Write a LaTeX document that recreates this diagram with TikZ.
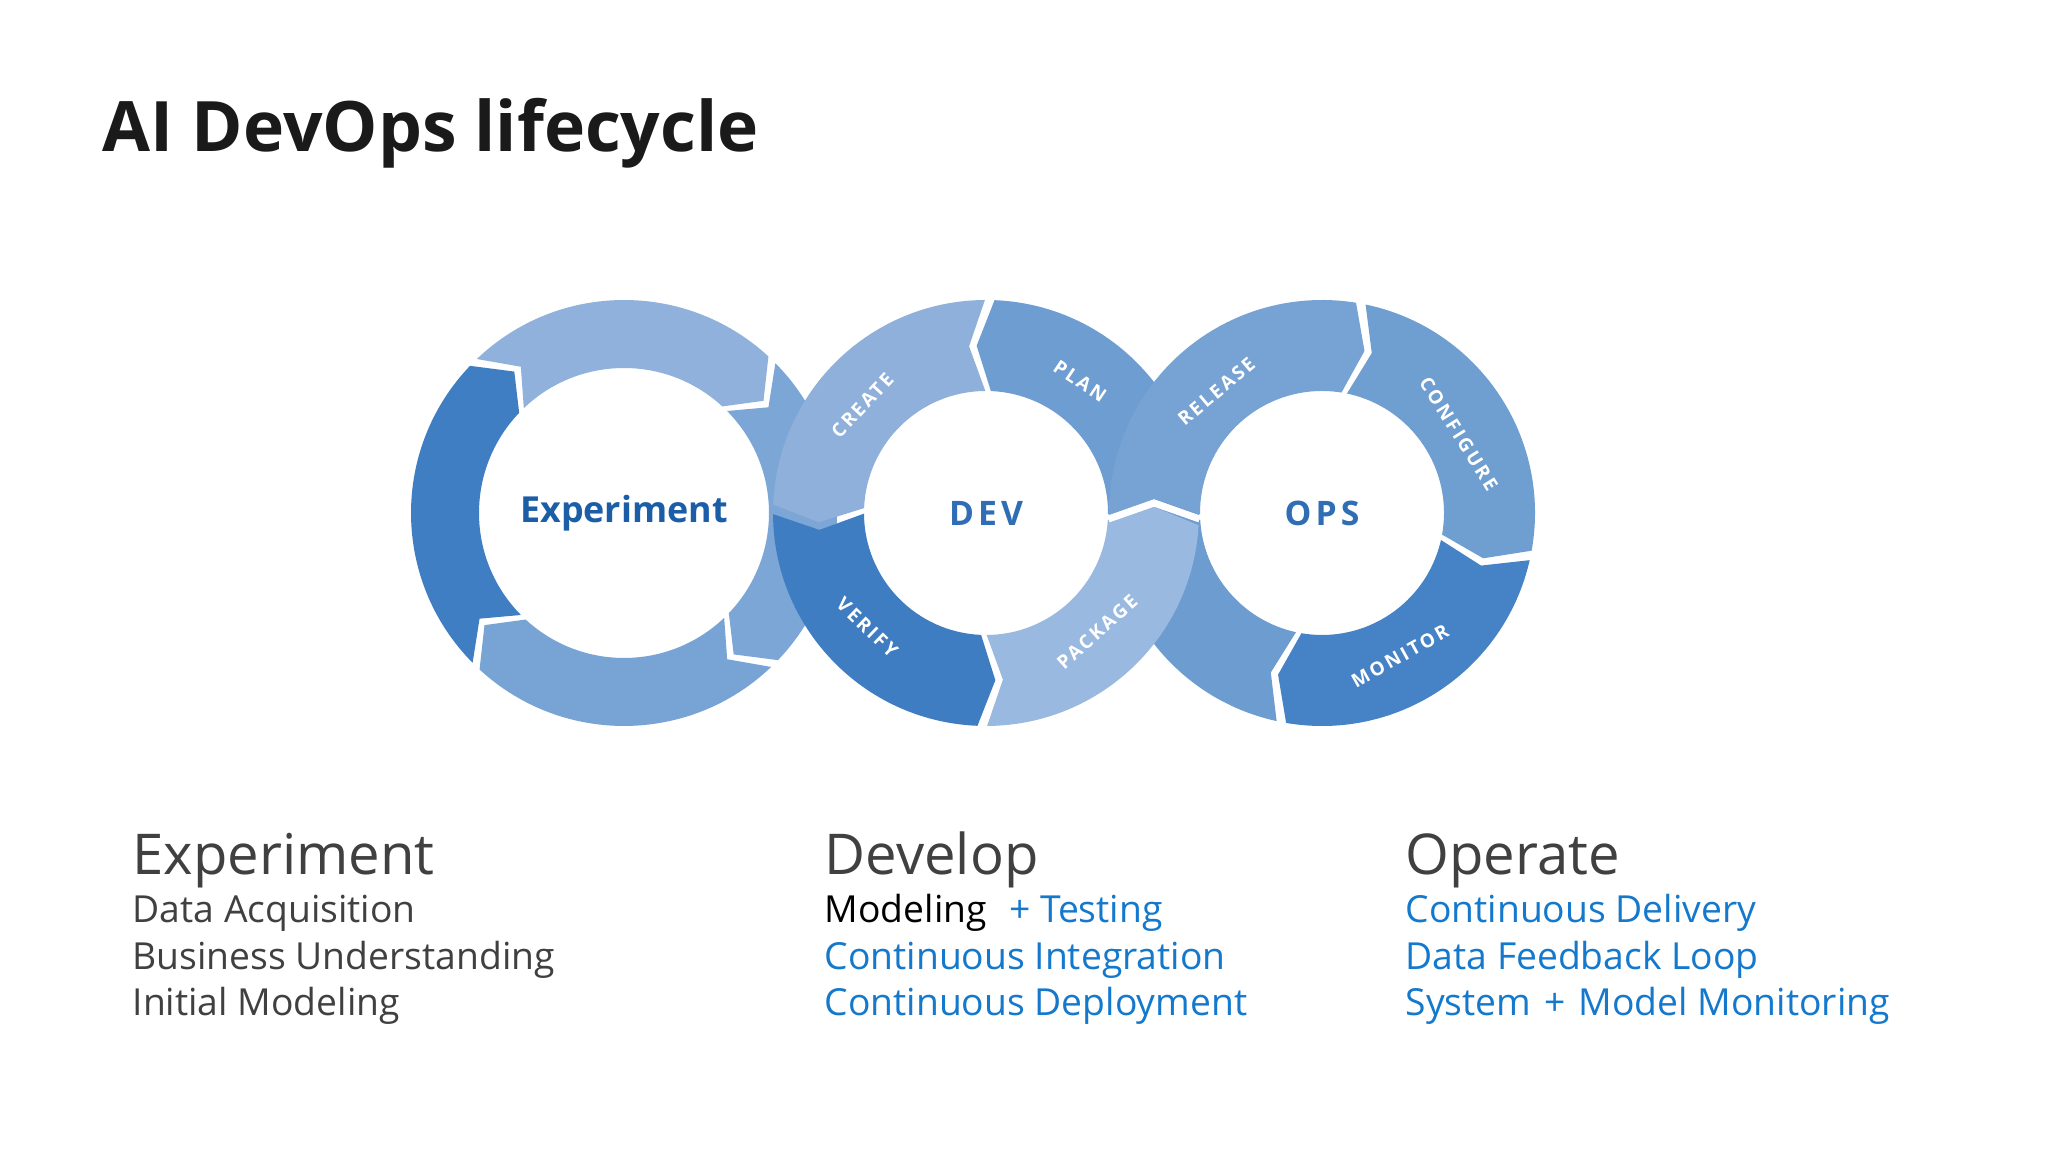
\documentclass[tikz,border=0pt]{standalone}
\usepackage{fontspec}
\setmainfont{Open Sans}
\usetikzlibrary{calc}

\definecolor{expTop}{HTML}{8FB1DB}
\definecolor{expRight}{HTML}{7BA6D6}
\definecolor{expBottom}{HTML}{77A4D4}
\definecolor{expLeft}{HTML}{407EC3}
\definecolor{devCreate}{HTML}{8EB0DA}
\definecolor{devPlan}{HTML}{6E9DD1}
\definecolor{devVerify}{HTML}{3F7DC2}
\definecolor{devPackage}{HTML}{99B9E0}
\definecolor{opsRelease}{HTML}{76A3D3}
\definecolor{opsConfig}{HTML}{6F9ED1}
\definecolor{opsMonitor}{HTML}{4683C6}
\definecolor{opsLow}{HTML}{6D9CD0}
\definecolor{expInk}{HTML}{1B5DA7}
\definecolor{ringInk}{HTML}{2F6DB5}
\definecolor{titleInk}{HTML}{1A1A1A}
\definecolor{headInk}{HTML}{404040}
\definecolor{itemBlue}{HTML}{1479CC}

% one arrow piece of a ring: centre, colour, r in, r out, tail cut, head cut, tip offset, half gap
\newcommand{\ringseg}[8]{%
  \fill[#2, shift={(#1)}] ({#5+(#8)}:#4) arc[start angle={#5+(#8)}, end angle={#6-(#8)}, radius=#4]
    -- ({#6-(#8)+(#7)}:{(#3+#4)/2}) -- ({#6-(#8)}:#3)
    arc[start angle={#6-(#8)}, end angle={#5+(#8)}, radius=#3]
    -- ({#5+(#8)+(#7)}:{(#3+#4)/2}) -- cycle;}

\begin{document}
\begin{tikzpicture}[
    seglbl/.style={text=white, inner sep=0pt, font=\fontsize{5.4}{6}\selectfont\bfseries\addfontfeature{LetterSpace=13}},
    ringlbl/.style={text=ringInk, inner sep=0pt, font=\fontsize{9.6}{12}\selectfont\bfseries\addfontfeature{LetterSpace=12}},
    explbl/.style={text=expInk, inner sep=0pt, font=\fontsize{10.2}{13}\selectfont\bfseries},
    headtxt/.style={anchor=base west, inner sep=0pt, text=headInk, font=\fontsize{16}{20}\selectfont},
    graytxt/.style={anchor=base west, inner sep=0pt, text=headInk, font=\fontsize{10.6}{13}\selectfont},
    bluetxt/.style={anchor=base west, inner sep=0pt, text=itemBlue, font=\fontsize{10.6}{13}\selectfont},
    gapline/.style={white, line width=0.07cm}
  ]
  \useasboundingbox[fill=white] (0,0) rectangle (20.48,11.52);

  \node[anchor=base west, inner sep=0pt, text=titleInk, font=\fontsize{19.8}{24}\selectfont\bfseries] (title) at (1.02,10.0) {AI DevOps lifecycle};

  \coordinate (expc) at (6.24,6.39);
  \coordinate (devc) at (9.86,6.39);
  \coordinate (opsc) at (13.22,6.39);

  % experiment ring, clockwise
  \ringseg{expc}{expTop}{1.45}{2.13}{135}{46}{-8.5}{-1.3}
  \ringseg{expc}{expRight}{1.45}{2.13}{46}{-45}{-8.5}{-1.3}
  \ringseg{expc}{expBottom}{1.45}{2.13}{-45}{-134}{-8.5}{-1.3}
  \ringseg{expc}{expLeft}{1.45}{2.13}{226}{135}{-8.5}{-1.3}

  % ops piece that goes under dev
  \ringseg{opsc}{opsLow}{1.22}{2.13}{-101}{-178}{-5.5}{-1.3}

  % dev ring, counter clockwise
  \ringseg{devc}{devPackage}{1.22}{2.13}{-91}{-2}{5.5}{1.3}
  \ringseg{devc}{devPlan}{1.22}{2.13}{-2}{89}{5.5}{1.3}
  \ringseg{devc}{devCreate}{1.22}{2.13}{89}{179}{5.5}{1.3}
  \ringseg{devc}{devVerify}{1.22}{2.13}{179}{269}{5.5}{1.3}

  % ops ring, clockwise
  \ringseg{opsc}{opsRelease}{1.22}{2.13}{182}{79.5}{-5.5}{-1.3}
  \ringseg{opsc}{opsConfig}{1.22}{2.13}{79.5}{-11.5}{-5.5}{-1.3}
  \ringseg{opsc}{opsMonitor}{1.22}{2.13}{-11.5}{-101}{-5.5}{-1.3}

  \coordinate (g1) at (11.085,6.33);
  \coordinate (g2) at (11.54,6.49);
  \coordinate (g3) at (11.995,6.33);
  \draw[gapline] (g1) -- (g2) -- (g3);

  \node[explbl] (expname) at (expc) {Experiment};
  \node[ringlbl] (devname) at (devc) {DEV};
  \node[ringlbl] (opsname) at (opsc) {OPS};

  \node[seglbl, rotate=47] (create) at ($(devc)+(139:1.64)$) {CREATE};
  \node[seglbl, rotate=-34] (plan) at ($(devc)+(54.5:1.62)$) {PLAN};
  \node[seglbl, rotate=-44] (verify) at ($(devc)+(224:1.65)$) {VERIFY};
  \node[seglbl, rotate=42] (package) at ($(devc)+(-47:1.63)$) {PACKAGE};
  \node[seglbl, rotate=40] (release) at ($(opsc)+(131:1.61)$) {RELEASE};
  \node[seglbl, rotate=-58] (configure) at ($(opsc)+(30:1.58)$) {CONFIGURE};
  \node[seglbl, rotate=29] (monitor) at ($(opsc)+(-61.4:1.63)$) {MONITOR};

  \node[headtxt] (exphead) at (1.32,2.77) {Experiment};
  \node[graytxt] (exp1) at (1.32,2.29) {Data Acquisition};
  \node[graytxt] (exp2) at (1.32,1.82) {Business Understanding};
  \node[graytxt] (exp3) at (1.32,1.36) {Initial Modeling};

  \node[headtxt] (devhead) at (8.24,2.77) {Develop};
  \node[bluetxt] (dev1) at (8.24,2.29) {\textcolor{black}{Modeling}\hspace{0.6em}+ Testing};
  \node[bluetxt] (dev2) at (8.24,1.82) {Continuous Integration};
  \node[bluetxt] (dev3) at (8.24,1.36) {Continuous Deployment};

  \node[headtxt] (opshead) at (14.05,2.77) {Operate};
  \node[bluetxt] (ops1) at (14.05,2.29) {Continuous Delivery};
  \node[bluetxt] (ops2) at (14.05,1.82) {Data Feedback Loop};
  \node[bluetxt] (ops3) at (14.05,1.36) {System\hspace{0.35em}+\hspace{0.35em}Model Monitoring};
\end{tikzpicture}
\end{document}
